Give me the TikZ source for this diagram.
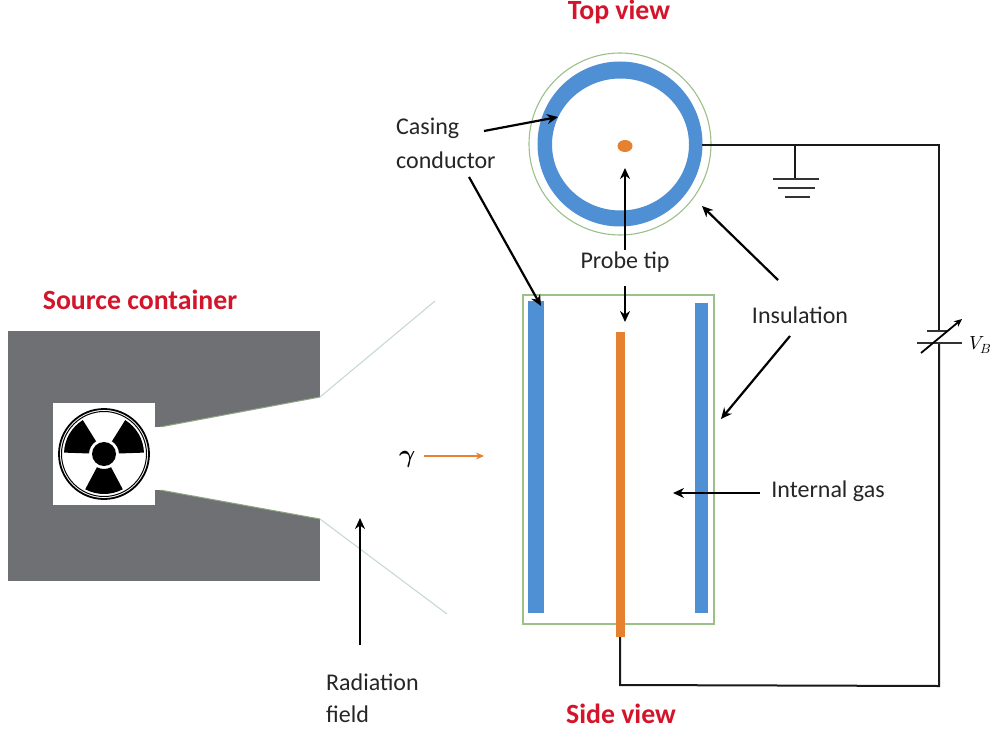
\documentclass[tikz,border=0pt]{standalone}
\usepackage{fontspec}
\usepackage{unicode-math}
\setmainfont{Carlito}
\setmathfont{Latin Modern Math}
\usetikzlibrary{arrows.meta}
\definecolor{casing}{HTML}{4F8FD3}
\definecolor{probe}{HTML}{E5812F}
\definecolor{insul}{HTML}{9CC08A}
\definecolor{shield}{HTML}{6E7073}
\definecolor{raycol}{HTML}{C4D6D4}
\definecolor{title}{HTML}{D3142A}
\tikzset{
  x=1pt,y=-1pt,
  viewlabel/.style={font=\fontsize{27.8}{28}\selectfont\bfseries,text=title,inner sep=0pt},
  partlabel/.style={font=\fontsize{24}{32}\selectfont,text=black!85,inner sep=0pt},
  pointer/.style={draw=black,line width=2.2pt,-{Stealth[length=11pt,width=10pt]}},
  wire/.style={draw=black!90,line width=2pt},
  plate/.style={draw=black!80,line width=2.2pt},
  insulation/.style={draw=insul,line width=1.1pt},
  ray/.style={draw=raycol,line width=1pt},
}
\begin{document}
\begin{tikzpicture}
\useasboundingbox (0,0) rectangle (992,743);
\clip (0,0) rectangle (992,743);
\fill[white] (0,0) rectangle (992,743);

% source container
\fill[shield] (8,331) rectangle (320,581);
\coordinate (funTL) at (160,427);
\coordinate (funTR) at (320,397);
\coordinate (funBR) at (320,519);
\coordinate (funBL) at (160,490);
\fill[white] (funTL) -- (funTR) -- (funBR) -- (funBL) -- cycle;
\draw[draw=insul!65!shield,line width=1pt] (funTL) -- (funTR);
\draw[draw=insul!65!shield,line width=1pt] (funBL) -- (funBR);
\fill[white] (53,403) rectangle (155,505);
\fill[white] (154,427) rectangle (161,490);
\coordinate (rayT) at (435,301);
\coordinate (rayB) at (447,614);
\draw[ray] (funTR) -- (rayT);
\draw[ray] (funBR) -- (rayB);

% radiation symbol
\coordinate (sym) at (104,454);
\draw[black,line width=1.8pt] (sym) circle[radius=45];
\draw[black,line width=1pt] (sym) circle[radius=42.5];
\fill[black] (sym) circle[radius=12];
\begin{scope}[shift={(104pt,-454pt)},x=1pt,y=1pt]
\foreach \a in {30,150,270}{
  \fill[black] ({\a-28}:15pt) arc[start angle={\a-28},end angle={\a+28},radius=15pt]
     -- ({\a+28}:40pt) arc[start angle={\a+28},end angle={\a-28},radius=40pt] -- cycle;
}
\end{scope}

% top view
\coordinate (topc) at (620,144);
\draw[insulation] (topc) circle[radius=91];
\fill[casing,even odd rule] (topc) circle[radius=82.5] (620.5,144.5) ellipse[x radius=68.5,y radius=66];
\fill[probe] (625,146) ellipse[x radius=7.5,y radius=6];

% side view
\draw[insulation] (523,295) rectangle (714,624);
\fill[casing] (528,301) rectangle (544,613);
\fill[casing] (695,303) rectangle (708,613);
\fill[probe] (616,332) rectangle (625,637);

% wiring
\coordinate (wireA) at (702,145);
\coordinate (wireB) at (939,145);
\coordinate (wireC) at (939,686);
\coordinate (wireD) at (620,685);
\coordinate (wireE) at (620,637);
\coordinate (capT) at (939,331);
\coordinate (capB) at (939,343);
\draw[wire] (wireA) -- (wireB) -- (capT);
\draw[wire] (capB) -- (wireC) -- (wireD) -- (wireE);
\draw[plate] (927,331) -- (948,331);
\draw[plate] (917,343) -- (962,343);
\coordinate (varA) at (921,353);
\coordinate (varB) at (962,319);
\draw[draw=black,line width=1.8pt,-{Stealth[length=8pt,width=7pt]}] (varA) -- (varB);
\node[inner sep=0pt,anchor=west] (vb) at (969,345) {\fontsize{19}{19}\selectfont $V_B$};

% ground
\coordinate (gndT) at (795,145);
\coordinate (gndB) at (795,179);
\draw[wire] (gndT) -- (gndB);
\draw[plate] (773,179) -- (819,179);
\draw[plate] (778,188) -- (815,188);
\draw[plate] (785,197) -- (810,197);

% titles
\node[viewlabel] (top) at (619,12) {Top view};
\node[viewlabel] (src) at (140,300) {Source container};
\node[viewlabel] (side) at (621,714) {Side view};

% labels
\node[partlabel,anchor=west] (cas1) at (396,128) {Casing};
\node[partlabel,anchor=west] (cas2) at (396,160) {conductor};
\node[partlabel] (tip) at (625,262) {Probe tip};
\node[partlabel] (ins) at (800,315) {Insulation};
\node[partlabel] (gas) at (828,491) {Internal gas};
\node[partlabel,anchor=west] (rad1) at (326,682) {Radiation};
\node[partlabel,anchor=west] (rad2) at (326,714) {field};
\node[inner sep=0pt] (gam) at (408,459) {\fontsize{25}{25}\selectfont $\symbfit{γ}$};

% pointers
\coordinate (casA) at (558,117);
\coordinate (casB) at (541,306);
\coordinate (tipA) at (625,168);
\coordinate (tipB) at (625,322);
\coordinate (insA) at (702,206);
\coordinate (insB) at (721,419);
\coordinate (gasA) at (673,493);
\coordinate (radA) at (360,518);
\coordinate (gamA) at (484,456);
\draw[pointer] (484,131) -- (casA);
\draw[pointer] (469,177) -- (casB);
\draw[pointer] (625,250) -- (tipA);
\draw[pointer] (625,286) -- (tipB);
\draw[pointer] (778,280) -- (insA);
\draw[pointer] (790,336) -- (insB);
\draw[pointer] (760,493) -- (gasA);
\draw[pointer] (360,645) -- (radA);
\draw[draw=probe,line width=2pt,-{Stealth[length=8pt,width=7pt]}] (424,456) -- (gamA);
\end{tikzpicture}
\end{document}
